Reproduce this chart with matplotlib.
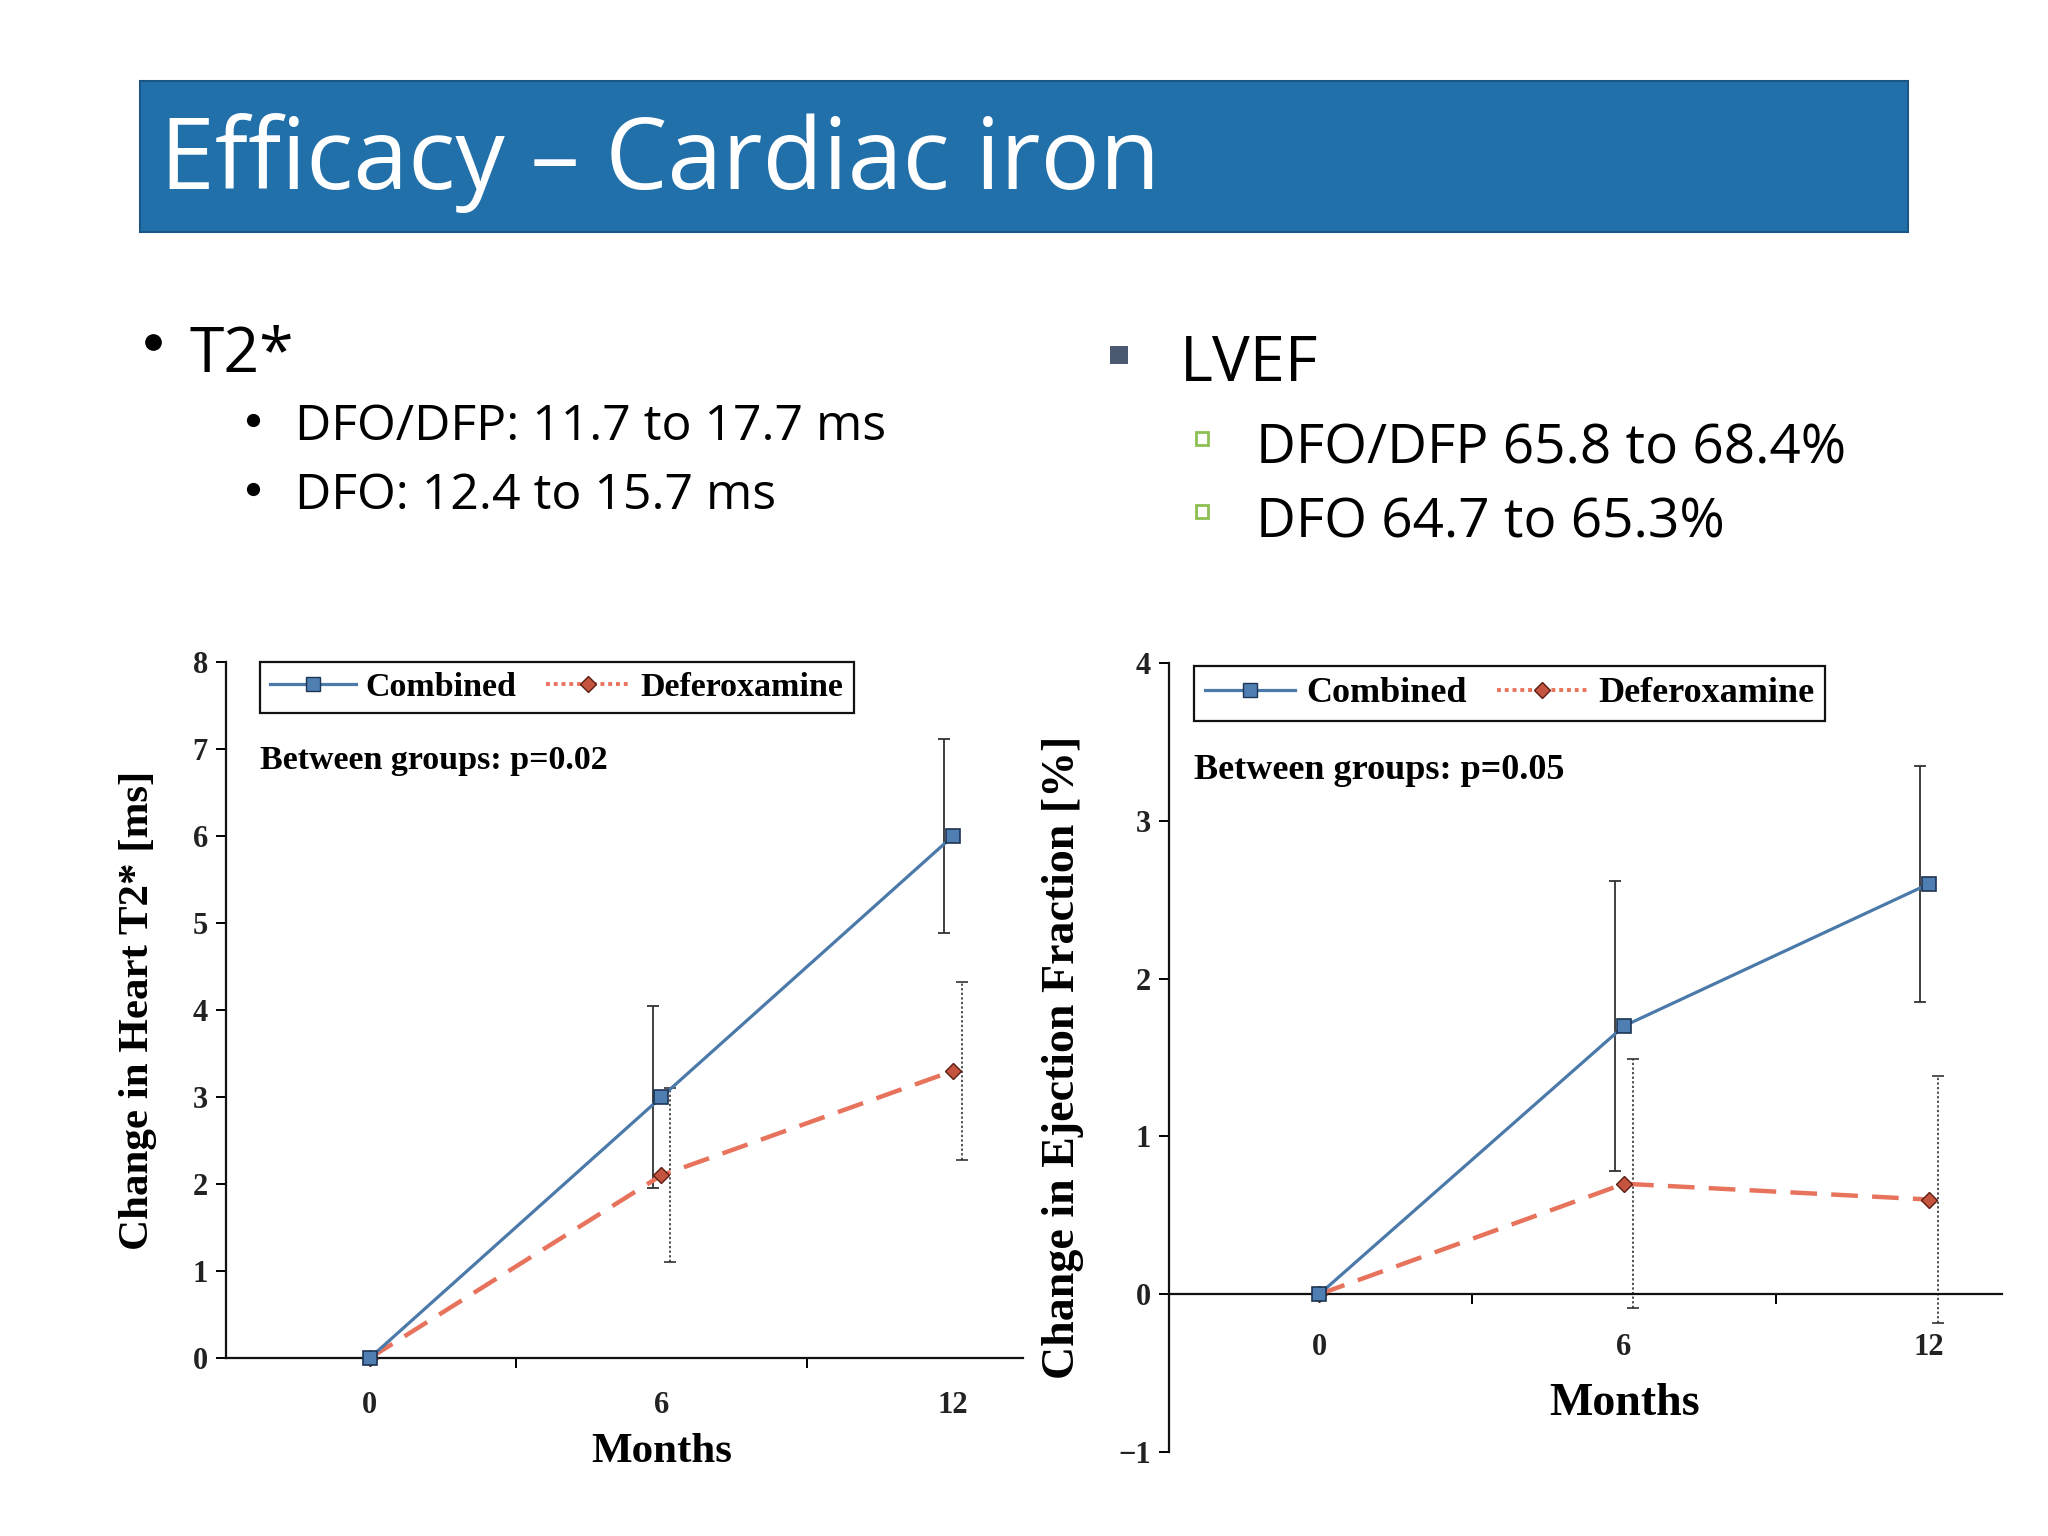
import matplotlib
matplotlib.use("Agg")
import matplotlib.pyplot as plt
from matplotlib.lines import Line2D
from matplotlib.patches import Rectangle
from matplotlib.ticker import FixedLocator

W, H = 2048, 1536
BAR = "#2170aa"
BLUE_LINE, BLUE_FILL, BLUE_EDGE = "#4a79aa", "#4f7fb2", "#1c3555"
RED_LINE, RED_FILL, RED_EDGE = "#e8735c", "#c4543f", "#5a1d12"
SANS = ["Open Sans", "DejaVu Sans"]
SERIF = ["Liberation Serif", "DejaVu Serif"]

# data
MONTHS = [0, 6, 12]
T2_COMBINED = [0.0, 3.0, 6.0]
T2_COMBINED_ERR = [0.0, 1.05, 1.12]
T2_DFO = [0.0, 2.1, 3.3]
T2_DFO_ERR = [0.0, 1.0, 1.02]
EF_COMBINED = [0.0, 1.7, 2.6]
EF_COMBINED_ERR = [0.0, 0.92, 0.75]
EF_DFO = [0.0, 0.7, 0.6]
EF_DFO_ERR = [0.0, 0.79, 0.78]

TITLE = "Efficacy \u2013 Cardiac iron"
LEFT_HEAD = "T2*"
LEFT_ITEMS = ["DFO/DFP: 11.7 to 17.7 ms", "DFO: 12.4 to 15.7 ms"]
RIGHT_HEAD = "LVEF"
RIGHT_ITEMS = ["DFO/DFP 65.8 to 68.4%", "DFO 64.7 to 65.3%"]

ERR_SHIFT = 0.18  # error bars drawn slightly beside the markers


def fx(px):
    return px / W


def fy(py):
    return 1 - py / H


def dot(x, y, ms):
    fig.add_artist(Line2D([fx(x)], [fy(y)], transform=fig.transFigure, marker="o",
                          ms=ms, mfc="black", mec="black", ls="none"))


fig = plt.figure(figsize=(W / 100, H / 100), dpi=100)
fig.patch.set_facecolor("white")

# title bar
fig.add_artist(Rectangle((fx(140), fy(232)), fx(1908) - fx(140), fy(81) - fy(232),
                         transform=fig.transFigure, facecolor=BAR,
                         edgecolor="#1b5686", lw=1.5))
fig.text(fx(160), fy(189), TITLE, color="white", fontsize=71, family=SANS,
         va="baseline", ha="left")

# bullet text
dot(153, 342, 11)
fig.text(fx(190), fy(372), LEFT_HEAD, fontsize=45, family=SANS, va="baseline")
for by, item in zip((440, 509), LEFT_ITEMS):
    dot(253, by - 20, 8.5)
    fig.text(fx(295), fy(by), item, fontsize=36, family=SANS, va="baseline")

fig.add_artist(Rectangle((fx(1110), fy(364)), fx(18), fy(0) - fy(18),
                         transform=fig.transFigure, facecolor="#4b5a70", lw=0))
fig.text(fx(1180), fy(381), RIGHT_HEAD, fontsize=45.5, family=SANS, va="baseline")
for by, item in zip((464, 537), RIGHT_ITEMS):
    fig.add_artist(Rectangle((fx(1196), fy(by - 19)), fx(12), fy(0) - fy(13),
                             transform=fig.transFigure, facecolor="none",
                             edgecolor="#8dbf52", lw=2))
    fig.text(fx(1256), fy(by), item, fontsize=39.5, family=SANS, va="baseline")


def draw_chart(ax, combined, comb_err, dfo, dfo_err, ylim, yticks, ylabel, ptext,
               legend_xy, ptext_y, xlabel_y, ylabel_x, xpad, fs_text, fs_label):
    ax.set_facecolor("white")
    ax.plot(MONTHS, combined, "-", color=BLUE_LINE, lw=2.3, marker="s", ms=10,
            mfc=BLUE_FILL, mec=BLUE_EDGE, mew=1.2, zorder=4, clip_on=False)
    ax.plot(MONTHS, dfo, color=RED_LINE, lw=3.2, dashes=(6, 3.2), marker="D", ms=8,
            mfc=RED_FILL, mec=RED_EDGE, mew=1.0, zorder=3, clip_on=False)
    cx = [m - ERR_SHIFT for m in MONTHS[1:]]
    eb = ax.errorbar(cx, combined[1:], yerr=comb_err[1:], fmt="none", ecolor="#333333",
                     elinewidth=1.3, capsize=4, capthick=1.3, zorder=2)
    dx = [m + ERR_SHIFT for m in MONTHS[1:]]
    eb2 = ax.errorbar(dx, dfo[1:], yerr=dfo_err[1:], fmt="none", ecolor="#222222",
                      elinewidth=1.1, capsize=4, capthick=1.1, zorder=2)
    eb2[2][0].set_linestyle((0, (1.5, 1.5)))
    for a in list(eb[1]) + list(eb2[1]) + list(eb[2]) + list(eb2[2]):
        a.set_clip_on(False)

    ax.set_xlim(-2.96, 13.44)
    ax.set_ylim(*ylim)
    ax.spines["top"].set_visible(False)
    ax.spines["right"].set_visible(False)
    ax.spines["bottom"].set_position(("data", 0))
    for s in ("left", "bottom"):
        ax.spines[s].set_linewidth(1.6)
        ax.spines[s].set_color("#111111")
    ax.set_xticks(MONTHS)
    ax.set_xticklabels([str(m) for m in MONTHS])
    ax.xaxis.set_minor_locator(FixedLocator([3, 9]))
    ax.tick_params(axis="x", which="major", length=0, pad=xpad)
    ax.tick_params(axis="x", which="minor", length=7, width=1.4, direction="out")
    ax.set_yticks(yticks)
    ax.tick_params(axis="y", length=7, width=1.4, direction="out", pad=6)
    for lab in ax.get_xticklabels() + ax.get_yticklabels():
        lab.set_family(SERIF)
        lab.set_fontweight("bold")
        lab.set_fontsize(22)
        lab.set_color("#222222")

    ax.set_ylabel(ylabel, family=SERIF, fontweight="bold", fontsize=fs_label)
    ax.yaxis.set_label_coords(ylabel_x, 0.5)
    ax.set_xlabel("Months", family=SERIF, fontweight="bold", fontsize=fs_label)
    ax.xaxis.set_label_coords(0.547, xlabel_y)

    handles = [
        Line2D([], [], color=BLUE_LINE, lw=2.3, marker="s", ms=10, mfc=BLUE_FILL,
               mec=BLUE_EDGE),
        Line2D([], [], color=RED_LINE, lw=2.8, ls=(0, (1, 1)), marker="D", ms=8,
               mfc=RED_FILL, mec=RED_EDGE),
    ]
    leg = ax.legend(handles, ["Combined", "Deferoxamine"], ncol=2, loc="upper left",
                    bbox_to_anchor=legend_xy, fancybox=False,
                    edgecolor="#111111", framealpha=1,
                    prop={"family": SERIF, "weight": "bold", "size": fs_text},
                    handlelength=2.5, handletextpad=0.3, columnspacing=0.85,
                    borderpad=0.3, borderaxespad=0)
    leg.get_frame().set_linewidth(1.6)
    ax.text(legend_xy[0], ptext_y, ptext, transform=ax.transAxes, family=SERIF,
            fontweight="bold", fontsize=fs_text, va="center", ha="left")


ax1 = fig.add_axes([fx(226), fy(1358), fx(1023) - fx(226), fy(662) - fy(1358)])
draw_chart(ax1, T2_COMBINED, T2_COMBINED_ERR, T2_DFO, T2_DFO_ERR, (0, 8), range(0, 9),
           "Change in Heart T2* [ms]", "Between groups: p=0.02",
           (0.043, 1.0), 0.859, -0.108, -0.087, 24, 24.5, 31)

ax2 = fig.add_axes([fx(1169), fy(1452), fx(2002) - fx(1169), fy(663) - fy(1452)])
draw_chart(ax2, EF_COMBINED, EF_COMBINED_ERR, EF_DFO, EF_DFO_ERR, (-1, 4), range(-1, 5),
           "Change in Ejection Fraction [%]", "Between groups: p=0.05",
           (0.030, 0.996), 0.864, 0.088, -0.102, 28, 26, 33)

fig.savefig("out.png", dpi=100, facecolor="white")
